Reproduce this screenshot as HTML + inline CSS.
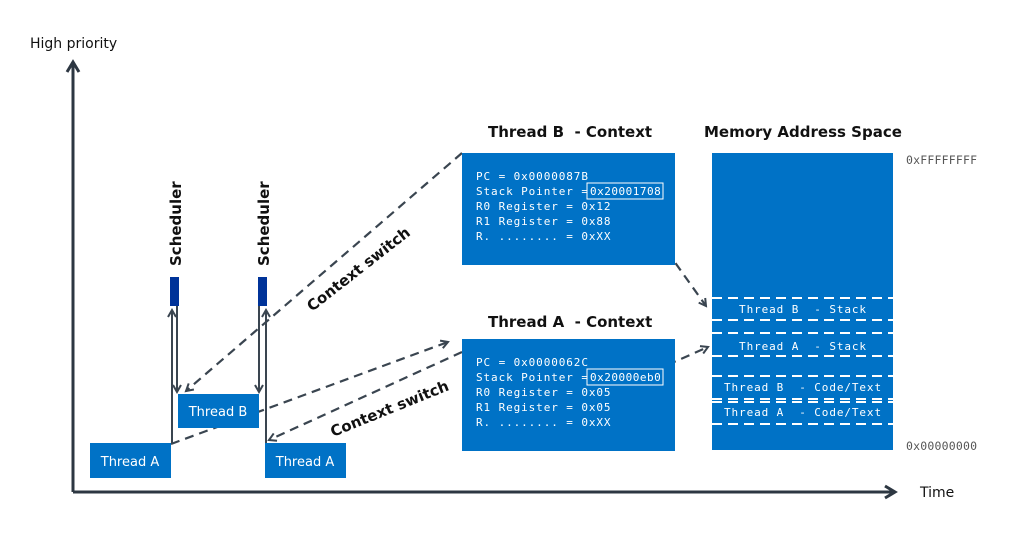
<!DOCTYPE html>
<html><head><meta charset="utf-8"><style>
body{margin:0;background:#fff;}
svg{display:block}
text{white-space:pre}
.t{font-family:"DejaVu Sans","Liberation Sans",sans-serif;}
.m{font-family:"DejaVu Sans Mono","Liberation Mono",monospace;font-size:11px;fill:#fff;letter-spacing:0.9px;}
</style></head><body>
<svg width="1024" height="549" viewBox="0 0 1024 549" xmlns="http://www.w3.org/2000/svg" xml:space="preserve">
<defs>
<marker id="ah" markerWidth="10" markerHeight="10" refX="8" refY="5" orient="auto" markerUnits="userSpaceOnUse">
<path d="M1,1 L8,5 L1,9" fill="none" stroke="#3a4550" stroke-width="2"/></marker>
<marker id="ax" markerWidth="16" markerHeight="16" refX="12" refY="8" orient="auto" markerUnits="userSpaceOnUse">
<path d="M2,2 L12,8 L2,14" fill="none" stroke="#2d3742" stroke-width="3"/></marker>
</defs>
<line x1="73" y1="492" x2="73" y2="62" stroke="#2d3742" stroke-width="3" marker-end="url(#ax)"/>
<line x1="73" y1="492" x2="895" y2="492" stroke="#2d3742" stroke-width="3" marker-end="url(#ax)"/>
<text x="30" y="48" class="t" font-size="14" fill="#111">High priority</text>
<text x="920" y="497" class="t" font-size="14" fill="#111">Time</text>

<g stroke="#3a4550" stroke-width="2.2" stroke-dasharray="9,6" fill="none">
<line x1="462" y1="153" x2="186" y2="391" marker-end="url(#ah)"/>
<line x1="171" y1="444" x2="448" y2="342" marker-end="url(#ah)"/>
<line x1="462" y1="352" x2="269" y2="440" marker-end="url(#ah)"/>
<line x1="632" y1="202" x2="706" y2="306" marker-end="url(#ah)"/>
<line x1="640" y1="377" x2="708" y2="347" marker-end="url(#ah)"/>
</g>

<g stroke="#3a4550" stroke-width="2" fill="none">
<line x1="172" y1="443" x2="172" y2="310" marker-end="url(#ah)"/>
<line x1="177" y1="306" x2="177" y2="392" marker-end="url(#ah)"/>
<line x1="259" y1="306" x2="259" y2="392" marker-end="url(#ah)"/>
<line x1="266" y1="443" x2="266" y2="310" marker-end="url(#ah)"/>
</g>
<rect x="170" y="277" width="9" height="29" fill="#003399"/>
<rect x="258" y="277" width="9" height="29" fill="#003399"/>
<text transform="translate(181,266) rotate(-90)" class="t" font-size="15" font-weight="bold" fill="#111">Scheduler</text>
<text transform="translate(269,266) rotate(-90)" class="t" font-size="15" font-weight="bold" fill="#111">Scheduler</text>

<rect x="90" y="443" width="81" height="35" fill="#0072c6"/>
<text x="130" y="466" class="t" font-size="13" fill="#fff" text-anchor="middle">Thread A</text>
<rect x="178" y="394" width="81" height="34" fill="#0072c6"/>
<text x="218" y="416" class="t" font-size="13" fill="#fff" text-anchor="middle">Thread B</text>
<rect x="265" y="443" width="81" height="35" fill="#0072c6"/>
<text x="305" y="466" class="t" font-size="13" fill="#fff" text-anchor="middle">Thread A</text>

<text transform="translate(312,312) rotate(-38)" class="t" font-size="15" font-weight="bold" fill="#111">Context switch</text>
<text transform="translate(333,437) rotate(-22)" class="t" font-size="15" font-weight="bold" fill="#111">Context switch</text>

<text x="488" y="137" class="t" font-size="15" font-weight="bold" fill="#111">Thread B  - Context</text>
<rect x="462" y="153" width="213" height="112" fill="#0072c6"/>
<text class="m"><tspan x="476" y="180">PC = 0x0000087B</tspan><tspan x="476" y="195">Stack Pointer =</tspan><tspan x="476" y="210">R0 Register = 0x12</tspan><tspan x="476" y="225">R1 Register = 0x88</tspan><tspan x="476" y="240">R. ........ = 0xXX</tspan></text>
<rect x="587" y="183" width="76" height="16" fill="none" stroke="#fff" stroke-width="1"/>
<text x="590" y="195" class="m" style="letter-spacing:0.5px">0x20001708</text>

<text x="488" y="327" class="t" font-size="15" font-weight="bold" fill="#111">Thread A  - Context</text>
<rect x="462" y="339" width="213" height="112" fill="#0072c6"/>
<text class="m"><tspan x="476" y="366">PC = 0x0000062C</tspan><tspan x="476" y="381">Stack Pointer =</tspan><tspan x="476" y="396">R0 Register = 0x05</tspan><tspan x="476" y="411">R1 Register = 0x05</tspan><tspan x="476" y="426">R. ........ = 0xXX</tspan></text>
<rect x="587" y="369" width="76" height="16" fill="none" stroke="#fff" stroke-width="1"/>
<text x="590" y="381" class="m" style="letter-spacing:0.5px">0x20000eb0</text>

<text x="704" y="137" class="t" font-size="15" font-weight="bold" fill="#111">Memory Address Space</text>
<rect x="712" y="153" width="181" height="297" fill="#0072c6"/>
<g stroke="#fff" stroke-width="2" stroke-dasharray="10,6">
<line x1="712" y1="298" x2="893" y2="298"/><line x1="712" y1="320" x2="893" y2="320"/>
<line x1="712" y1="333" x2="893" y2="333"/><line x1="712" y1="356" x2="893" y2="356"/>
<line x1="712" y1="376" x2="893" y2="376"/><line x1="712" y1="399" x2="893" y2="399"/>
<line x1="712" y1="402" x2="893" y2="402"/><line x1="712" y1="424" x2="893" y2="424"/>
</g>
<text x="803" y="313" class="m" text-anchor="middle">Thread B  - Stack</text>
<text x="803" y="350" class="m" text-anchor="middle">Thread A  - Stack</text>
<text x="803" y="391" class="m" text-anchor="middle">Thread B  - Code/Text</text>
<text x="803" y="416" class="m" text-anchor="middle">Thread A  - Code/Text</text>
<text x="906" y="164" class="m" style="fill:#555;font-size:11.5px;letter-spacing:0.2px">0xFFFFFFFF</text>
<text x="906" y="450" class="m" style="fill:#555;font-size:11.5px;letter-spacing:0.2px">0x00000000</text>
</svg>
</body></html>
